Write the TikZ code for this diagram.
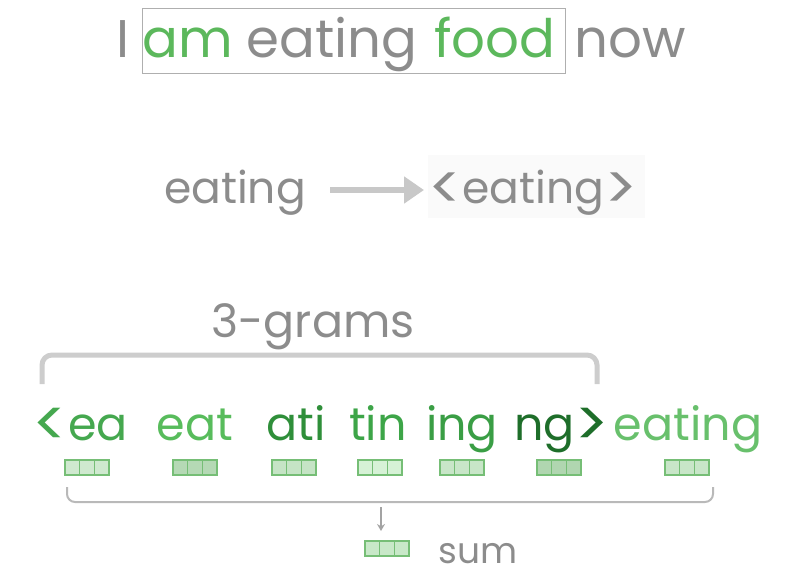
\documentclass[tikz,border=0pt]{standalone}
\usepackage{fontspec}
\setmainfont{Poppins}
\usetikzlibrary{arrows.meta}
\newcommand{\ltg}{\raisebox{-0.15em}{\scalebox{1.4}{<}}}
\newcommand{\gtg}{\raisebox{-0.15em}{\scalebox{1.4}{>}}}
\definecolor{txtgray}{RGB}{140,140,140}
\definecolor{wgreen}{RGB}{92,184,92}
\definecolor{boxgray}{RGB}{175,175,175}
\definecolor{brgray}{RGB}{205,205,205}
\definecolor{brgrayb}{RGB}{185,185,185}
\definecolor{arrgray}{RGB}{200,200,200}
\definecolor{gA}{RGB}{69,168,79}
\definecolor{gB}{RGB}{88,188,92}
\definecolor{gC}{RGB}{47,143,58}
\definecolor{gD}{RGB}{61,165,72}
\definecolor{gE}{RGB}{58,158,69}
\definecolor{gF}{RGB}{30,110,42}
\definecolor{gG}{RGB}{104,192,108}
\definecolor{vborder}{RGB}{118,190,118}
\definecolor{fA}{RGB}{207,233,207}
\definecolor{fB}{RGB}{181,217,181}
\definecolor{fC}{RGB}{197,228,197}
\definecolor{fD}{RGB}{214,242,214}
\definecolor{fE}{RGB}{200,230,200}
\definecolor{fF}{RGB}{176,214,176}
\definecolor{fG}{RGB}{200,230,200}
\definecolor{fS}{RGB}{200,232,200}
\definecolor{faint}{RGB}{250,250,250}
\tikzset{
  word/.style={anchor=base, inner sep=0pt, text=txtgray},
  big/.style={font=\fontsize{53}{60}\selectfont},
  mid/.style={font=\fontsize{44}{50}\selectfont},
  gram/.style={anchor=base, inner sep=0pt, font=\fontsize{46}{52}\selectfont},
  vec/.style={draw=vborder, line width=1.2pt, minimum width=44, minimum height=15, inner sep=0pt,
    path picture={\draw[vborder, line width=1.2pt]
      ([xshift=14.67]path picture bounding box.north west) -- ([xshift=14.67]path picture bounding box.south west)
      ([xshift=-14.67]path picture bounding box.north east) -- ([xshift=-14.67]path picture bounding box.south east);}},
  bigbrace/.style={draw=brgray, line width=5pt, rounded corners=10pt},
  smallbrace/.style={draw=brgrayb, line width=2pt, rounded corners=8pt},
}
\begin{document}
\begin{tikzpicture}[x=1pt,y=-1pt]
\useasboundingbox (0,0) rectangle (800,582);
% top sentence
\node[draw=boxgray, line width=1pt, minimum width=423, minimum height=65, inner sep=0pt] (sel) at (353.5,40.5) {};
\node[word, big] (wI) at (123,57) {I};
\node[word, big, text=wgreen] (wam) at (188,57) {am};
\node[word, big] (weat) at (332,57) {eating};
\node[word, big, text=wgreen] (wfood) at (495,57) {food};
\node[word, big] (wnow) at (630,57) {now};
% eating -> <eating>
\node[fill=faint, minimum width=217, minimum height=63, inner sep=0pt] (bg) at (536.5,186.5) {};
\node[word, mid] (e1) at (235,203) {eating};
\node[word, mid] (e2) at (533,203) {\ltg eating\gtg};
\coordinate (as) at (330,190);
\coordinate (ae) at (424,190);
\draw[draw=arrgray, line width=6pt, -{Triangle[length=20pt,width=26pt]}] (as) -- (ae);
% 3-grams
\node[word, font=\fontsize{46}{52}\selectfont] (tg) at (313,337) {3-grams};
\coordinate (b1) at (42,384);
\coordinate (b2) at (597,384);
\draw[bigbrace] (b1) |- (319.5,355) -| (b2);
% grams
\node[gram, text=gA] (n1) at (80,440) {\ltg ea};
\node[gram, text=gB] (n2) at (195,440) {eat};
\node[gram, text=gC] (n3) at (296,440) {ati};
\node[gram, text=gD] (n4) at (378,440) {tin};
\node[gram, text=gE] (n5) at (462,440) {ing};
\node[gram, text=gF] (n6) at (562,440) {ng\gtg};
\node[gram, text=gG] (n7) at (688,440) {eating};
% vectors
\node[vec, fill=fA] (v1) at (87,467.5) {};
\node[vec, fill=fB] (v2) at (195,467.5) {};
\node[vec, fill=fC] (v3) at (294,467.5) {};
\node[vec, fill=fD] (v4) at (380,467.5) {};
\node[vec, fill=fE] (v5) at (462,467.5) {};
\node[vec, fill=fF] (v6) at (559,467.5) {};
\node[vec, fill=fG] (v7) at (687,467.5) {};
% bottom brace
\coordinate (c1) at (67,487);
\coordinate (c2) at (713,487);
\draw[smallbrace] (c1) |- (390,502) -| (c2);
% sum
\node[vec, fill=fS] (vs) at (387,548.5) {};
\node[word, font=\fontsize{36}{42}\selectfont] (sum) at (478,563) {sum};
\coordinate (dm) at (381,507);
\coordinate (dn) at (381,531);
\draw[draw=txtgray!80, line width=1.5pt, -{Stealth[length=7pt,width=8pt]}] (dm) -- (dn);
\end{tikzpicture}
\end{document}
